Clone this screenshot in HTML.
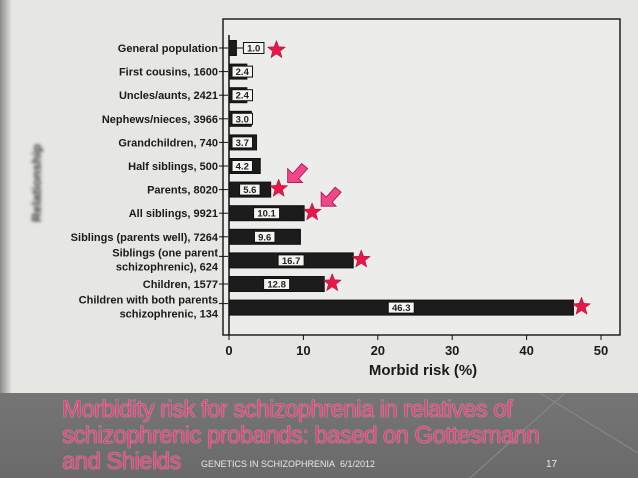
<!DOCTYPE html>
<html><head><meta charset="utf-8"><style>
html,body{margin:0;padding:0;}
body{width:638px;height:478px;overflow:hidden;background:#e6e6e3;font-family:"Liberation Sans",sans-serif;position:relative;}
#band{position:absolute;left:0;top:393px;width:638px;height:85px;background:linear-gradient(#757575,#6a6a6a);}
.t{position:absolute;left:62px;color:#e2457d;font-size:24px;letter-spacing:-0.6px;white-space:nowrap;text-shadow:0 0 1px #fff;}
.f{position:absolute;color:#e8e8e8;font-size:9px;top:459px;}
</style></head><body>
<div style="position:absolute;left:0;top:0;width:12px;height:393px;background:linear-gradient(90deg,#8a8a8a,#e6e6e3);"></div>
<svg id="chart" width="638" height="393" style="position:absolute;left:0;top:0;font-family:'Liberation Sans',sans-serif;"><defs><filter id="bl"><feGaussianBlur stdDeviation="1.6"/></filter></defs></svg>
<div id="band">
<svg width="638" height="85" style="position:absolute;left:0;top:0"><line x1="470" y1="85" x2="565" y2="0" stroke="#8a8a8a" stroke-width="1"/><line x1="540" y1="0" x2="638" y2="60" stroke="#8a8a8a" stroke-width="1"/></svg>
</div>
<div class="t" style="top:396px">Morbidity risk for schizophrenia in relatives of</div>
<div class="t" style="top:422px">schizophrenic probands: based on Gottesmann</div>
<div class="t" style="top:448px">and Shields</div>
<div class="f" style="left:201px">GENETICS IN SCHIZOPHRENIA</div>
<div class="f" style="left:340px">6/1/2012</div>
<div class="f" style="left:546px;font-size:10px">17</div>
<script>
const categories=[["General population"],["First cousins, 1600"],["Uncles/aunts, 2421"],["Nephews/nieces, 3966"],["Grandchildren, 740"],["Half siblings, 500"],["Parents, 8020"],["All siblings, 9921"],["Siblings (parents well), 7264"],["Siblings (one parent","schizophrenic), 624"],["Children, 1577"],["Children with both parents","schizophrenic, 134"]];
const values=[1.0,2.4,2.4,3.0,3.7,4.2,5.6,10.1,9.6,16.7,12.8,46.3];
const valueLabels=["1.0","2.4","2.4","3.0","3.7","4.2","5.6","10.1","9.6","16.7","12.8","46.3"];
const starred=[0,6,7,9,10,11];
const arrowed=[6,7];
const ticks=[0,10,20,30,40,50];
const svg=document.getElementById('chart');
const NS='http://www.w3.org/2000/svg';
const x=v=>229+v*7.44;
const yc=i=>48+i*23.6;
function mk(t,a){const e=document.createElementNS(NS,t);for(const k in a)e.setAttribute(k,a[k]);svg.appendChild(e);return e;}
const box=mk('rect',{x:223,y:19,width:397,height:316,fill:'#ececea',stroke:'#222','stroke-width':1.5});


function star(cx,cy,r){let p=[];for(let k=0;k<10;k++){const a=-Math.PI/2+k*Math.PI/5;const rr=k%2?r*0.42:r;p.push((cx+rr*Math.cos(a)).toFixed(1)+','+(cy+rr*Math.sin(a)).toFixed(1));}return p.join(' ');}
categories.forEach((c,i)=>{
  const cy=yc(i);
  const h=i<6?15:15;
  const b=mk('rect',{x:x(0),y:cy-h/2,width:x(values[i])-x(0),height:h,fill:'#1c1c1c',stroke:'#111','stroke-width':1});
  
  
  const w=valueLabels[i].length*5.5+4;
  let lx;
  if(i===0){lx=x(values[i])+7;}else if(i<6){lx=x(0)+3;}else{lx=(x(0)+x(values[i]))/2-w/2;}
  const lb=mk('rect',{x:lx,y:cy-5.5,width:w,height:11,fill:'#f4f4f2',stroke:'#111','stroke-width':1});
  
  
  const vt=mk('text',{x:lx+w/2,y:cy+3.5,'text-anchor':'middle','font-size':9.5,'font-weight':'bold',fill:'#222'});
  vt.textContent=valueLabels[i];
  
  
  if(i===0){mk('line',{x1:x(values[i]),y1:cy,x2:lx,y2:cy,stroke:'#111','stroke-width':1});}
  mk('line',{x1:219,y1:cy-(c.length>1?4:0),x2:228,y2:cy-(c.length>1?4:0),stroke:'#111','stroke-width':1});
  c.forEach((line,j)=>{
    const t=mk('text',{x:218,y:cy+4+(c.length>1?(j===0?-8:6):0),'text-anchor':'end','font-size':11,'font-weight':'bold',fill:'#1a1a1a'});
    t.textContent=line;
    
    
  });
  if(starred.includes(i)){
    const s=mk('polygon',{points:star(i===0?x(values[i])+40:x(values[i])+8,i===0?cy+2:cy-1,9.5),fill:'#e8174a',stroke:'#a01030','stroke-width':0.5});
    
    
  }
  if(arrowed.includes(i)){
    const ax=x(values[i])+28, ay=cy-18;
    const a=mk('polygon',{points:`${ax-11},${ay+11} ${ax-11},${ay-3} ${ax-6},${ay+2} ${ax+3},${ay-8} ${ax+9},${ay-3} ${ax},${ay+7} ${ax+4},${ay+11}`,fill:'#f0468a',stroke:'#a01050','stroke-width':0.8});
    
    
  }
});
mk('line',{x1:x(0),y1:35,x2:x(0),y2:335,stroke:'#111','stroke-width':1.5});
ticks.forEach(t=>{
  mk('line',{x1:x(t),y1:335,x2:x(t),y2:340,stroke:'#111','stroke-width':1});
  const e=mk('text',{x:x(t),y:355,'text-anchor':'middle','font-size':13,'font-weight':'bold',fill:'#1a1a1a'});
  e.textContent=t;
  
  
});
const xt=mk('text',{x:423,y:375,'text-anchor':'middle','font-size':15,'font-weight':'bold',fill:'#1a1a1a'});
xt.textContent='Morbid risk (%)';


const yt=mk('text',{x:41,y:183,'text-anchor':'middle','font-size':13,'font-weight':'bold',fill:'#333',transform:'rotate(-90 41 183)',filter:'url(#bl)'});
yt.textContent='Relationship';


</script>
</body></html>
